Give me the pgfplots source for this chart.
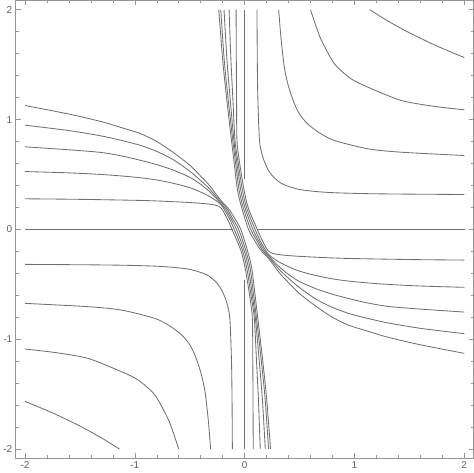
\documentclass[border=0pt]{standalone}
\usepackage{fontspec}
\setmainfont{Liberation Sans}
\usepackage{pgfplots}
\pgfplotsset{compat=1.18}
\definecolor{curvegray}{RGB}{112,112,112}
\definecolor{framegray}{RGB}{150,150,150}
\definecolor{labelgray}{RGB}{95,95,95}
\begin{document}
\begin{tikzpicture}
\begin{axis}[
  scale only axis,
  width=457bp, height=457bp,
  xmin=-2.085, xmax=2.085, ymin=-2.083, ymax=2.085,
  axis line style={framegray, line width=0.8pt},
  tick style={framegray, line width=0.6pt},
  tick align=inside, tick pos=both,
  major tick length=5bp, minor tick length=3bp,
  xtick={-2,-1,0,1,2}, ytick={-2,-1,0,1,2},
  xticklabels={-2,-1,0,1,2}, yticklabels={-2,-1,0,1,2},
  minor x tick num=4, minor y tick num=4,
  ticklabel style={font=\fontsize{10}{12}\selectfont, text=labelgray},
  clip=true,
  no markers,
  every axis plot post/.append style={curvegray, solid, line width=0.85pt, smooth, tension=0.45},
]
% upper-right family
\addplot coordinates {(1.14,2.0) (1.3,1.9) (1.5,1.79) (1.75,1.67) (2.0,1.565)};
\addplot coordinates {(0.60,2.0) (0.65,1.85) (0.70,1.72) (0.817,1.508) (0.97,1.371) (1.122,1.295) (1.426,1.174) (1.73,1.12) (2.0,1.089)};
\addplot coordinates {(0.31,2.0) (0.33,1.75) (0.361,1.477) (0.40,1.30) (0.453,1.144) (0.50,1.05) (0.572,0.962) (0.68,0.88) (0.817,0.81) (1.122,0.734) (1.426,0.703) (2.0,0.673)};
\addplot coordinates {(0.112,2.0) (0.115,1.54) (0.12,1.2) (0.135,0.81) (0.165,0.66) (0.21,0.55) (0.26,0.48) (0.331,0.421) (0.42,0.385) (0.514,0.361) (0.65,0.345) (0.817,0.334) (1.1,0.326) (1.426,0.322) (2.0,0.318)};
% lower-left family
\addplot coordinates {(-1.14,-2.0) (-1.3,-1.9) (-1.5,-1.79) (-1.75,-1.67) (-2.0,-1.565)};
\addplot coordinates {(-0.60,-2.0) (-0.65,-1.85) (-0.70,-1.72) (-0.817,-1.508) (-0.97,-1.371) (-1.122,-1.295) (-1.426,-1.174) (-1.73,-1.12) (-2.0,-1.089)};
\addplot coordinates {(-0.31,-2.0) (-0.33,-1.75) (-0.361,-1.477) (-0.40,-1.30) (-0.453,-1.144) (-0.50,-1.05) (-0.572,-0.962) (-0.68,-0.88) (-0.817,-0.81) (-1.122,-0.734) (-1.426,-0.703) (-2.0,-0.673)};
\addplot coordinates {(-0.112,-2.0) (-0.115,-1.54) (-0.12,-1.2) (-0.135,-0.81) (-0.165,-0.66) (-0.21,-0.55) (-0.26,-0.48) (-0.331,-0.421) (-0.42,-0.385) (-0.514,-0.361) (-0.65,-0.345) (-0.817,-0.334) (-1.1,-0.326) (-1.426,-0.322) (-2.0,-0.318)};
% from the left edge down to the bottom
\addplot coordinates {(-2,1.128) (-1.6,1.05) (-1.3,0.98) (-1.1,0.92) (-0.945,0.871) (-0.8,0.80) (-0.65,0.70) (-0.5,0.585) (-0.4,0.485) (-0.32,0.40) (-0.26,0.32) (-0.21,0.255) (-0.17,0.215) (-0.14,0.18) (-0.09,0.1) (-0.035,0) (0.025,-0.19) (0.065,-0.355) (0.095,-0.6) (0.12,-0.81) (0.165,-1.2) (0.2,-1.54) (0.236,-2)};
\addplot coordinates {(-2,0.949) (-1.6,0.90) (-1.3,0.85) (-1.1,0.805) (-0.945,0.764) (-0.8,0.71) (-0.65,0.635) (-0.5,0.53) (-0.4,0.445) (-0.32,0.37) (-0.26,0.30) (-0.21,0.245) (-0.175,0.205) (-0.155,0.18) (-0.11,0.1) (-0.055,0) (0.01,-0.19) (0.05,-0.355) (0.082,-0.6) (0.108,-0.81) (0.152,-1.2) (0.186,-1.54) (0.218,-2)};
\addplot coordinates {(-2,0.752) (-1.6,0.725) (-1.3,0.70) (-1.1,0.665) (-0.945,0.628) (-0.8,0.59) (-0.65,0.54) (-0.5,0.475) (-0.4,0.41) (-0.32,0.345) (-0.26,0.285) (-0.22,0.24) (-0.19,0.205) (-0.17,0.18) (-0.125,0.1) (-0.075,0) (-0.005,-0.19) (0.035,-0.355) (0.07,-0.6) (0.098,-0.81) (0.133,-1.2) (0.161,-1.54) (0.188,-2)};
\addplot coordinates {(-2,0.527) (-1.6,0.515) (-1.3,0.50) (-1.1,0.485) (-0.945,0.470) (-0.8,0.45) (-0.65,0.42) (-0.5,0.38) (-0.4,0.34) (-0.32,0.30) (-0.26,0.262) (-0.22,0.23) (-0.2,0.205) (-0.185,0.18) (-0.14,0.1) (-0.095,0) (-0.02,-0.19) (0.02,-0.355) (0.058,-0.6) (0.088,-0.81) (0.108,-1.2) (0.125,-1.54) (0.142,-2)};
\addplot coordinates {(-2,0.279) (-1.5,0.274) (-0.945,0.264) (-0.7,0.255) (-0.5,0.245) (-0.4,0.238) (-0.32,0.23) (-0.27,0.222) (-0.235,0.21) (-0.215,0.195) (-0.2,0.175) (-0.16,0.1) (-0.115,0) (-0.035,-0.19) (0.005,-0.355) (0.045,-0.6) (0.07,-0.81) (0.074,-1.2) (0.076,-1.54) (0.078,-2)};
% from the top edge down to the right edge
\addplot coordinates {(2,-1.128) (1.6,-1.05) (1.3,-0.98) (1.1,-0.92) (0.945,-0.871) (0.8,-0.80) (0.65,-0.70) (0.5,-0.585) (0.4,-0.485) (0.32,-0.40) (0.26,-0.32) (0.21,-0.255) (0.17,-0.215) (0.14,-0.18) (0.09,-0.1) (0.035,0) (-0.025,0.19) (-0.065,0.355) (-0.095,0.6) (-0.12,0.81) (-0.165,1.2) (-0.2,1.54) (-0.236,2)};
\addplot coordinates {(2,-0.949) (1.6,-0.90) (1.3,-0.85) (1.1,-0.805) (0.945,-0.764) (0.8,-0.71) (0.65,-0.635) (0.5,-0.53) (0.4,-0.445) (0.32,-0.37) (0.26,-0.30) (0.21,-0.245) (0.175,-0.205) (0.155,-0.18) (0.11,-0.1) (0.055,0) (-0.01,0.19) (-0.05,0.355) (-0.082,0.6) (-0.108,0.81) (-0.152,1.2) (-0.186,1.54) (-0.218,2)};
\addplot coordinates {(2,-0.752) (1.6,-0.725) (1.3,-0.70) (1.1,-0.665) (0.945,-0.628) (0.8,-0.59) (0.65,-0.54) (0.5,-0.475) (0.4,-0.41) (0.32,-0.345) (0.26,-0.285) (0.22,-0.24) (0.19,-0.205) (0.17,-0.18) (0.125,-0.1) (0.075,0) (0.005,0.19) (-0.035,0.355) (-0.07,0.6) (-0.098,0.81) (-0.133,1.2) (-0.161,1.54) (-0.188,2)};
\addplot coordinates {(2,-0.527) (1.6,-0.515) (1.3,-0.50) (1.1,-0.485) (0.945,-0.470) (0.8,-0.45) (0.65,-0.42) (0.5,-0.38) (0.4,-0.34) (0.32,-0.30) (0.26,-0.262) (0.22,-0.23) (0.2,-0.205) (0.185,-0.18) (0.14,-0.1) (0.095,0) (0.02,0.19) (-0.02,0.355) (-0.058,0.6) (-0.088,0.81) (-0.108,1.2) (-0.125,1.54) (-0.142,2)};
\addplot coordinates {(2,-0.279) (1.5,-0.274) (0.945,-0.264) (0.7,-0.255) (0.5,-0.245) (0.4,-0.238) (0.32,-0.23) (0.27,-0.222) (0.235,-0.21) (0.215,-0.195) (0.2,-0.175) (0.16,-0.1) (0.115,0) (0.035,0.19) (-0.005,0.355) (-0.045,0.6) (-0.07,0.81) (-0.074,1.2) (-0.076,1.54) (-0.078,2)};
% the axes as solutions
\addplot coordinates {(-2,0) (-0.11,0)};
\addplot coordinates {(0.11,0) (2,0)};
\addplot coordinates {(0,2) (0,0.46)};
\addplot coordinates {(0,-0.46) (0,-2)};
\end{axis}
\end{tikzpicture}
\end{document}
